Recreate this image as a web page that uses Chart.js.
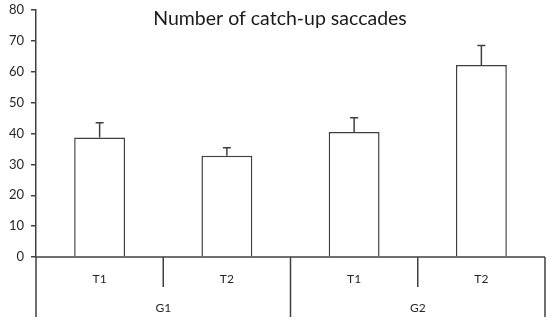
<!DOCTYPE html>
<html>
<head>
<meta charset="utf-8">
<script src="https://cdn.jsdelivr.net/npm/chart.js@4/dist/chart.umd.min.js"></script>
<style>
  html, body { margin: 0; padding: 0; background: #fff; }
  #wrap { width: 550px; height: 325px; position: relative; }
</style>
</head>
<body>
<div id="wrap"><canvas id="chart"></canvas></div>
<script>
// values
const groups = ["G1", "G1", "G2", "G2"];
const sessions = ["T1", "T2", "T1", "T2"];
const means = [38.7, 32.8, 40.5, 62.2];
const errors = [4.8, 2.6, 4.6, 6.3];
const yTicks = [0, 10, 20, 30, 40, 50, 60, 70, 80];

const INK = "#404040";
const TEXT = "#262626";
const FONT = "Lato, 'Open Sans', sans-serif";

// upward-only error bars with a short cap
const errorBars = {
  id: "errorBars",
  afterDatasetsDraw(chart) {
    const { ctx, scales: { x, y } } = chart;
    ctx.save();
    ctx.strokeStyle = INK;
    ctx.lineWidth = 1.5;
    means.forEach((m, i) => {
      const px = x.getPixelForValue(i);
      const y0 = y.getPixelForValue(m);
      const y1 = y.getPixelForValue(m + errors[i]);
      ctx.beginPath();
      ctx.moveTo(px, y0);
      ctx.lineTo(px, y1);
      ctx.moveTo(px - 4, y1);
      ctx.lineTo(px + 4, y1);
      ctx.stroke();
    });
    ctx.restore();
  }
};

// two-level category axis (session under group) plus title
const groupAxis = {
  id: "groupAxis",
  afterDraw(chart) {
    const { ctx, chartArea: a, scales: { x, y } } = chart;
    const base = y.getPixelForValue(0);
    const step = x.getPixelForValue(1) - x.getPixelForValue(0);
    const edge = (i) => x.getPixelForValue(i) - step / 2;
    ctx.save();
    ctx.strokeStyle = INK;
    ctx.lineWidth = 1.5;
    ctx.beginPath();
    ctx.moveTo(a.left, base);
    ctx.lineTo(a.right, base);
    ctx.moveTo(a.left, base);
    ctx.lineTo(a.left, base + 60);
    for (let i = 1; i <= sessions.length; i++) {
      const bx = i === sessions.length ? a.right : edge(i);
      const groupEnd = i === sessions.length || groups[i] !== groups[i - 1];
      ctx.moveTo(bx, base);
      ctx.lineTo(bx, base + (groupEnd ? 60 : 30));
    }
    ctx.stroke();

    ctx.fillStyle = TEXT;
    ctx.font = "12px " + FONT;
    ctx.textAlign = "center";
    ctx.textBaseline = "middle";
    sessions.forEach((s, i) => ctx.fillText(s, x.getPixelForValue(i), base + 22));
    let start = 0;
    for (let i = 1; i <= groups.length; i++) {
      if (i === groups.length || groups[i] !== groups[start]) {
        const cx = (edge(start) + (i === groups.length ? a.right : edge(i))) / 2;
        ctx.fillText(groups[start], cx, base + 51);
        start = i;
      }
    }

    ctx.font = "19.5px " + FONT;
    ctx.fillStyle = "#1a1a1a";
    ctx.textBaseline = "alphabetic";
    ctx.fillText("Number of catch-up saccades", 280, 25);
    ctx.restore();
  }
};

new Chart(document.getElementById("chart"), {
  type: "bar",
  data: {
    labels: sessions.map((s, i) => groups[i] + " " + s),
    datasets: [{
      data: means,
      backgroundColor: "#ffffff",
      borderColor: INK,
      borderWidth: 1.5,
      borderSkipped: "bottom",
      categoryPercentage: 1,
      barPercentage: 0.4
    }]
  },
  options: {
    responsive: true,
    maintainAspectRatio: false,
    animation: false,
    layout: { padding: { top: 10, right: 5, bottom: 68, left: 0 } },
    plugins: { legend: { display: false }, tooltip: { enabled: false }, title: { display: false } },
    scales: {
      x: { display: false },
      y: {
        min: 0,
        max: 80,
        afterFit: (s) => { s.width = 36; s.paddingTop = 0; s.paddingBottom = 0; },
        afterBuildTicks: (s) => { s.ticks = yTicks.map((v) => ({ value: v })); },
        border: { display: true, color: INK, width: 1.5 },
        grid: { drawOnChartArea: false, drawTicks: true, tickLength: 5, color: INK, lineWidth: 1.5 },
        ticks: { color: TEXT, padding: 7, font: { family: FONT, size: 13 } }
      }
    }
  },
  plugins: [errorBars, groupAxis]
});
</script>
</body>
</html>
